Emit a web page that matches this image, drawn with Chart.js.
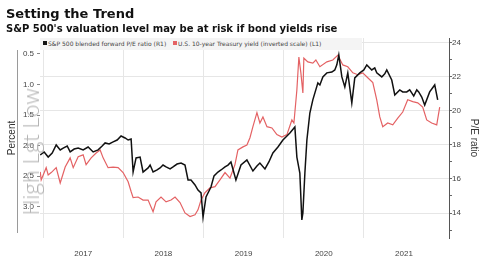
<!DOCTYPE html>
<html><head><meta charset="utf-8">
<script src="https://cdn.jsdelivr.net/npm/chart.js@4.4.1/dist/chart.umd.min.js"></script>
<style>
html,body{margin:0;padding:0;background:#fff;}
#wrap{position:relative;width:480px;height:259px;overflow:hidden;}
canvas{position:absolute;left:0;top:0;}
#title{position:absolute;left:6px;top:6px;font:bold 13px "DejaVu Sans",sans-serif;color:#111;white-space:nowrap;}
#sub{position:absolute;left:6px;top:23px;font:bold 10px "DejaVu Sans",sans-serif;color:#111;white-space:nowrap;}
#legend{position:absolute;left:40px;top:38px;width:322px;height:12px;background:#f4f4f4;font:6px "DejaVu Sans",sans-serif;color:#444;white-space:nowrap;line-height:12px;}
#legend .sq{display:inline-block;width:4px;height:4px;margin:0 1px 0 3px;vertical-align:middle;position:relative;top:-1px;}
#wm{position:absolute;left:30px;top:152px;transform:translate(-50%,-50%) rotate(-90deg);font:300 22px "Open Sans","DejaVu Sans",sans-serif;color:#b4b4b4;white-space:nowrap;}
</style></head>
<body><div id="wrap">
<canvas id="c" width="480" height="259"></canvas>
<div id="title">Setting the Trend</div>
<div id="sub">S&amp;P 500's valuation level may be at risk if bond yields rise</div>
<div id="legend"><span class="sq" style="background:#111"></span>S&amp;P 500 blended forward P/E ratio (R1)&nbsp;&nbsp;<span class="sq" style="background:rgb(228,98,100)"></span>U.S. 10-year Treasury yield (inverted scale) (L1)</div>
<div id="wm">High Lgt Low</div>
</div>
<script>
const peDates = [2016.963, 2017.012, 2017.062, 2017.112, 2017.162, 2017.212, 2017.249, 2017.299, 2017.336, 2017.386,
  2017.436, 2017.498, 2017.560, 2017.623, 2017.685, 2017.735, 2017.772, 2017.822, 2017.872, 2017.922,
  2017.971, 2018.021, 2018.059, 2018.096, 2018.121, 2018.158, 2018.208, 2018.245, 2018.308, 2018.333,
  2018.370, 2018.420, 2018.457, 2018.494, 2018.532, 2018.582, 2018.619, 2018.669, 2018.719, 2018.768,
  2018.806, 2018.843, 2018.893, 2018.930, 2018.968, 2018.993, 2019.030, 2019.092, 2019.130, 2019.179,
  2019.217, 2019.267, 2019.304, 2019.341, 2019.403, 2019.466, 2019.540, 2019.615, 2019.665, 2019.702,
  2019.765, 2019.814, 2019.864, 2019.927, 2019.989, 2020.039, 2020.076, 2020.138, 2020.163, 2020.200,
  2020.225, 2020.238, 2020.263, 2020.288, 2020.325, 2020.362, 2020.425, 2020.450, 2020.487, 2020.537,
  2020.599, 2020.636, 2020.661, 2020.686, 2020.724, 2020.761, 2020.798, 2020.848, 2020.885, 2020.948,
  2020.998, 2021.035, 2021.097, 2021.134, 2021.159, 2021.222, 2021.259, 2021.284, 2021.346, 2021.384,
  2021.446, 2021.483, 2021.533, 2021.570, 2021.595, 2021.620, 2021.658, 2021.682, 2021.720, 2021.757,
  2021.819, 2021.882, 2021.919];
const peValues = [17.41, 17.59, 17.29, 17.53, 18.0, 17.71, 17.82, 17.94, 17.59, 17.76,
  17.82, 17.71, 17.88, 17.59, 17.71, 17.94, 18.12, 18.06, 18.18, 18.29,
  18.53, 18.41, 18.29, 18.35, 16.41, 17.24, 17.29, 16.41, 16.65, 16.82,
  16.41, 16.53, 16.65, 16.82, 16.71, 16.59, 16.71, 16.88, 16.94, 16.82,
  15.94, 15.94, 15.65, 15.35, 15.18, 13.76, 14.94, 15.53, 16.18, 16.41,
  16.53, 16.71, 16.82, 17.0, 15.94, 16.82, 17.12, 16.47, 16.76, 16.94,
  16.59, 17.0, 17.53, 17.88, 18.29, 18.53, 18.71, 19.06, 17.29, 16.35,
  13.59, 14.0, 16.35, 18.29, 19.88, 20.65, 21.65, 21.53, 22.0, 22.24,
  22.29, 22.41, 22.71, 23.29, 22.0, 21.41, 22.24, 20.47, 21.94, 22.24,
  22.41, 22.71, 22.41, 22.53, 22.24, 22.0, 22.18, 22.41, 21.82, 20.94,
  21.24, 21.12, 21.12, 21.24, 21.06, 20.88, 21.24, 21.12, 20.82, 20.35,
  21.12, 21.53, 20.65];
const yieldDates = [2016.963, 2016.975, 2017.037, 2017.062, 2017.100, 2017.162, 2017.212, 2017.274, 2017.336, 2017.374,
  2017.436, 2017.498, 2017.535, 2017.598, 2017.660, 2017.710, 2017.747, 2017.809, 2017.872, 2017.934,
  2017.996, 2018.059, 2018.096, 2018.121, 2018.183, 2018.245, 2018.308, 2018.370, 2018.407, 2018.469,
  2018.532, 2018.594, 2018.644, 2018.706, 2018.768, 2018.831, 2018.893, 2018.930, 2018.968, 2019.017,
  2019.080, 2019.142, 2019.204, 2019.267, 2019.329, 2019.391, 2019.428, 2019.491, 2019.540, 2019.578,
  2019.615, 2019.665, 2019.702, 2019.740, 2019.790, 2019.852, 2019.914, 2019.976, 2020.039, 2020.101,
  2020.126, 2020.163, 2020.188, 2020.213, 2020.238, 2020.250, 2020.300, 2020.362, 2020.400, 2020.450,
  2020.537, 2020.611, 2020.674, 2020.736, 2020.798, 2020.861, 2020.923, 2020.985, 2021.047, 2021.110,
  2021.159, 2021.197, 2021.234, 2021.296, 2021.359, 2021.421, 2021.483, 2021.545, 2021.608, 2021.670,
  2021.732, 2021.782, 2021.844, 2021.907, 2021.944];
const yieldValues = [2.43, 2.56, 2.36, 2.48, 2.44, 2.36, 2.61, 2.35, 2.20, 2.36,
  2.18, 2.15, 2.31, 2.20, 2.12, 2.07, 2.20, 2.36, 2.35, 2.36,
  2.44, 2.59, 2.75, 2.85, 2.84, 2.89, 2.89, 3.08, 2.92, 2.84,
  2.92, 2.89, 2.84, 2.93, 3.10, 3.16, 3.13, 3.05, 2.89, 2.77,
  2.69, 2.67, 2.56, 2.44, 2.53, 2.31, 2.07, 2.02, 1.99, 1.87,
  1.69, 1.46, 1.63, 1.53, 1.69, 1.71, 1.82, 1.86, 1.82, 1.58,
  1.63, 1.09, 0.55, 0.81, 1.14, 0.57, 0.63, 0.65, 0.60, 0.71,
  0.63, 0.60, 0.52, 0.68, 0.71, 0.81, 0.84, 0.81, 0.89, 0.97,
  1.25, 1.53, 1.69, 1.63, 1.66, 1.55, 1.45, 1.25, 1.28, 1.30,
  1.37, 1.58, 1.63, 1.66, 1.37];
const yearTicks = [2017, 2018, 2019, 2020, 2021];
const yearLabels = ['2017', '2018', '2019', '2020', '2021'];
const peTicks = [13, 14, 15, 16, 17, 18, 19, 20, 21, 22, 23, 24];
const yieldTicks = [0.5, 1.0, 1.5, 2.0, 2.5, 3.0];

const RED = 'rgb(228,98,100)';
const tickFont = {family: 'Liberation Sans', size: 8};

const leftLine = {
  id: 'leftLine',
  afterDraw(chart) {
    const ctx = chart.ctx;
    ctx.save();
    ctx.strokeStyle = '#9a9a9a';
    ctx.lineWidth = 1;
    ctx.beginPath();
    ctx.moveTo(17.5, 50);
    ctx.lineTo(17.5, 233);
    ctx.stroke();
    ctx.restore();
  }
};

new Chart(document.getElementById('c'), {
  type: 'line',
  data: {
    datasets: [
      {label: 'S&P 500 blended forward P/E ratio (R1)', data: peDates.map((d, i) => ({x: d, y: peValues[i]})),
        yAxisID: 'yR', borderColor: '#111', borderWidth: 1.5, pointRadius: 0, tension: 0},
      {label: 'U.S. 10-year Treasury yield (inverted scale) (L1)', data: yieldDates.map((d, i) => ({x: d, y: yieldValues[i]})),
        yAxisID: 'yL', borderColor: RED, borderWidth: 1.2, pointRadius: 0, tension: 0}
    ]
  },
  options: {
    responsive: false,
    animation: false,
    layout: {padding: {top: 38, left: 0, right: 0, bottom: 0}},
    plugins: {legend: {display: false}, tooltip: {enabled: false}},
    scales: {
      x: {
        type: 'linear', min: 2016.96, max: 2022.06,
        afterBuildTicks: s => { s.ticks = yearTicks.map(v => ({value: v})); },
        afterFit: s => { s.height = 21; },
        ticks: {callback: (v, i) => yearLabels[i], labelOffset: 40, maxRotation: 0, autoSkip: false,
          font: tickFont, color: '#444', padding: 11},
        grid: {color: '#e6e6e6', drawTicks: false},
        border: {display: false}
      },
      yR: {
        position: 'right', min: 12.53, max: 24.29,
        afterBuildTicks: s => { s.ticks = peTicks.map(v => ({value: v})); },
        afterFit: s => { s.width = 31; },
        ticks: {callback: v => (v % 2 === 0 ? String(v) : ''), font: tickFont, color: '#444', padding: 0, autoSkip: false},
        grid: {color: c => (c.tick && c.tick.value % 2 === 0 ? '#e6e6e6' : 'rgba(0,0,0,0)'),
          tickColor: '#666', tickLength: 3},
        border: {display: true, color: '#555'},
        title: {display: true, text: 'P/E ratio', font: {family: 'Liberation Sans', size: 10}, color: '#333', padding: {top: 0, bottom: 0}}
      },
      yL: {
        position: 'left', reverse: true, min: 0.24, max: 3.51,
        afterBuildTicks: s => { s.ticks = yieldTicks.map(v => ({value: v})); },
        afterFit: s => { s.width = 40; },
        ticks: {callback: v => v.toFixed(1), font: tickFont, color: '#444', padding: 3, autoSkip: false},
        grid: {drawOnChartArea: false, tickColor: '#888', tickLength: 3},
        border: {display: false},
        title: {display: true, text: 'Percent', font: {family: 'Liberation Sans', size: 10}, color: '#333', padding: {top: 6, bottom: 0}}
      }
    }
  },
  plugins: [leftLine]
});
</script>
</body></html>
